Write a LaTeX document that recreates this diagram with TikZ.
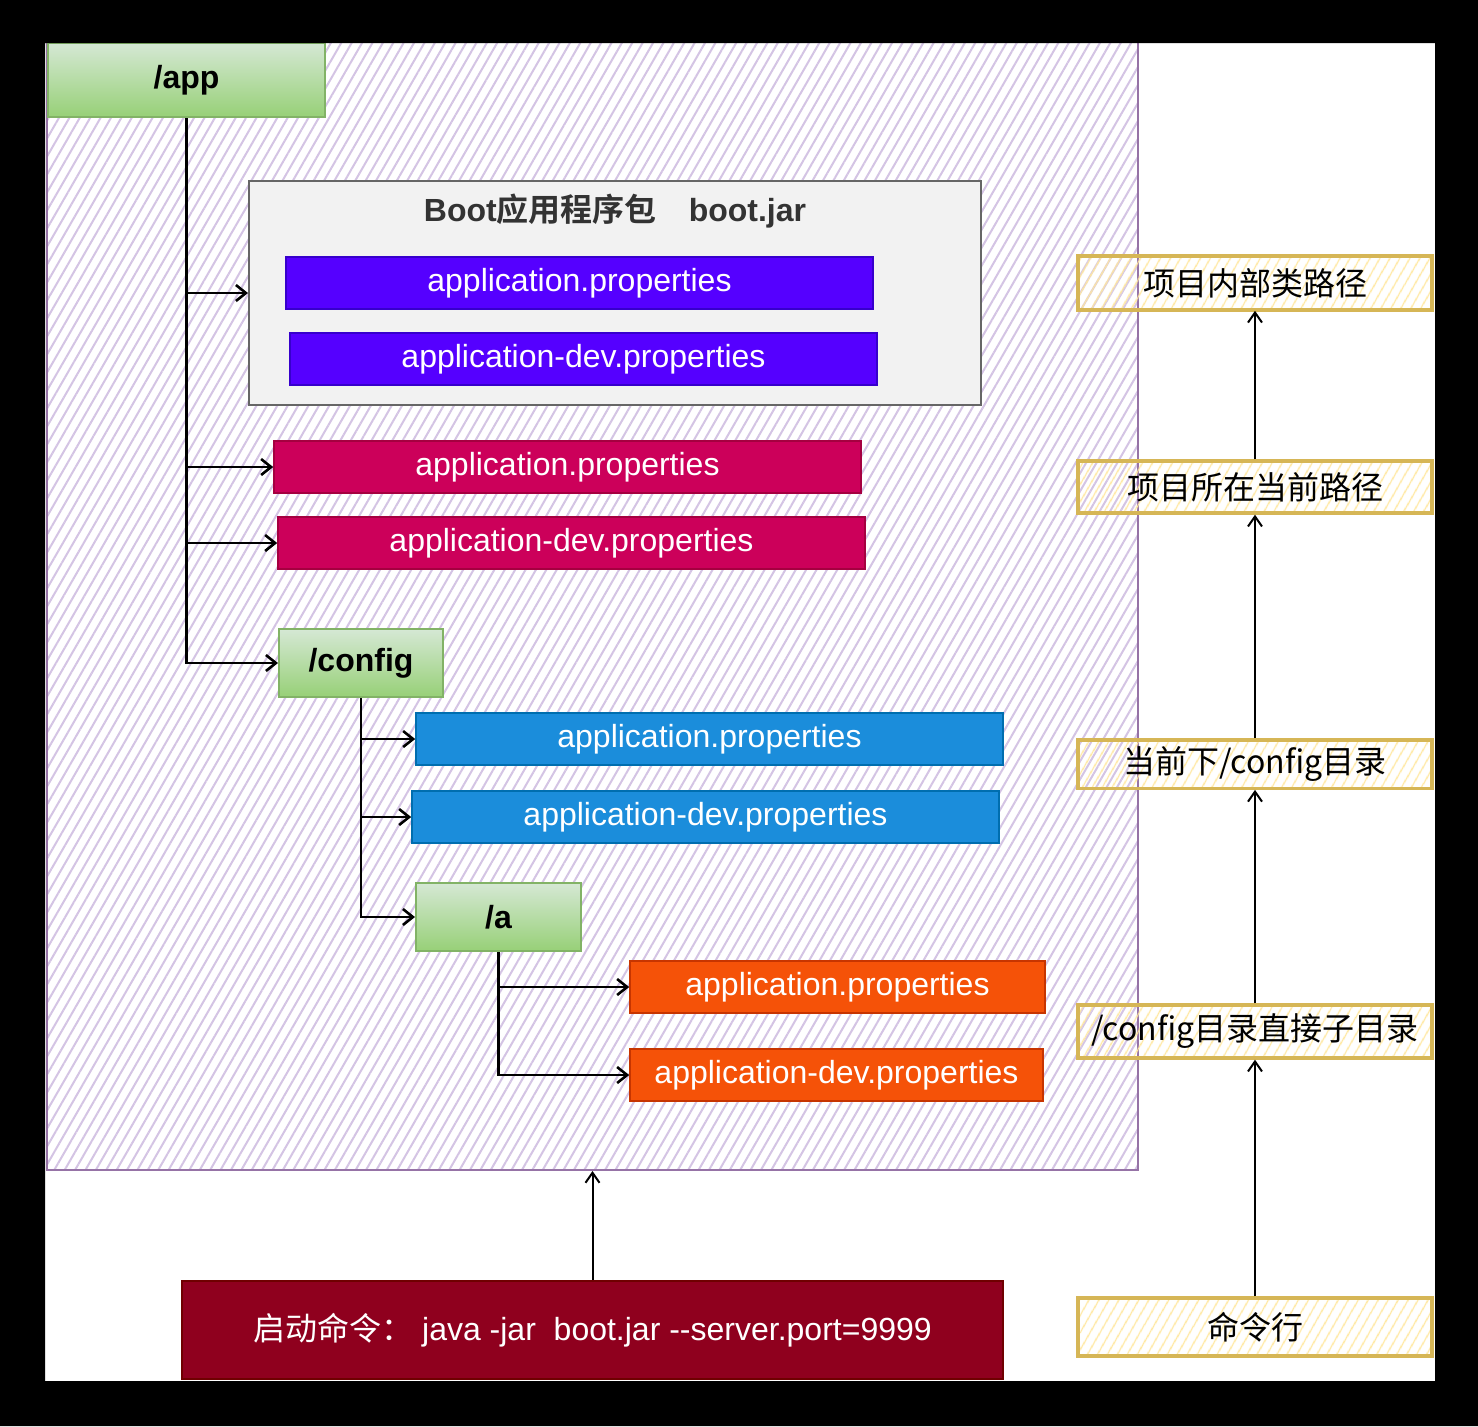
\documentclass[tikz,border=0pt]{standalone}
\usepackage{fontspec}
\setmainfont{Liberation Sans}
\newfontfamily\cjk{Noto Sans CJK SC}[BoldFont={Noto Sans CJK SC Bold}]
\usetikzlibrary{arrows.meta,patterns.meta}
\definecolor{dirgreen}{RGB}{130,179,102}
\definecolor{greentop}{RGB}{213,232,212}
\definecolor{greenbot}{RGB}{151,208,119}
\definecolor{bootgray}{RGB}{102,102,102}
\definecolor{bootfill}{RGB}{242,242,242}
\definecolor{violetfill}{RGB}{85,0,255}
\definecolor{violetdraw}{RGB}{55,0,204}
\definecolor{crimsonfill}{RGB}{204,0,90}
\definecolor{crimsondraw}{RGB}{165,0,64}
\definecolor{bluefill}{RGB}{27,141,219}
\definecolor{bluedraw}{RGB}{0,110,175}
\definecolor{orangefill}{RGB}{245,82,8}
\definecolor{orangedraw}{RGB}{199,53,0}
\definecolor{cmdfill}{RGB}{143,0,30}
\definecolor{cmddraw}{RGB}{111,0,0}
\definecolor{jarhatch}{RGB}{212,196,228}
\definecolor{jardraw}{RGB}{150,115,166}
\definecolor{lvhatch}{RGB}{255,232,160}
\definecolor{lvdraw}{RGB}{214,182,86}

\begin{document}
\begin{tikzpicture}[x=0.5pt,y=-0.5pt,
    bigfont/.style={font=\fontsize{16}{19}\selectfont},
    dirbox/.style={draw=dirgreen,line width=1pt,top color=greentop,bottom color=greenbot,
        font=\fontsize{16}{19}\selectfont\bfseries,minimum width=82pt,minimum height=34pt},
    filebox/.style 2 args={draw=#2,fill=#1,text=white,line width=0.8pt,
        font=\fontsize{16}{19}\selectfont,minimum width=293.5pt,minimum height=26pt},
    levelbox/.style={draw=lvdraw,line width=1.7pt,
        pattern={Lines[angle=60,distance=4pt,line width=0.8pt]},pattern color=lvhatch,
        font=\fontsize{16}{19}\cjk,minimum width=177pt},
    tree/.style={line width=1.3pt,-{Straight Barb[length=5pt,width=8pt]}},
    up/.style={line width=1pt,-{Straight Barb[length=5pt,width=7pt]}}]
    \useasboundingbox (0,0) rectangle (1478,1426);
    \fill[white] (0,0) rectangle (1478,1426);

    % hatched area of the jar directory
    \node[draw=jardraw,line width=1.2pt,pattern={Lines[angle=60,distance=4.5pt,line width=1pt]},
        pattern color=jarhatch,minimum width=545.5pt,minimum height=566pt] (jar) at (592.5,604) {};

    \node[dirbox,minimum width=138.5pt,minimum height=37pt] (app) at (186.5,80) {/app};

    \node[draw=bootgray,fill=bootfill,line width=1pt,minimum width=366pt,minimum height=112pt] (boot) at (615,293) {};
    \node[font=\fontsize{16}{19}\selectfont\bfseries,text=black!80] (boottitle) at (615,211) {Boot{\cjk\bfseries 应用程序包}\quad boot.jar};
    \node[filebox={violetfill}{violetdraw}] (bp1) at (579.5,283) {application.properties};
    \node[filebox={violetfill}{violetdraw}] (bp2) at (583.5,359) {application-dev.properties};

    \node[filebox={crimsonfill}{crimsondraw}] (rp1) at (567.5,467) {application.properties};
    \node[filebox={crimsonfill}{crimsondraw}] (rp2) at (571.5,543) {application-dev.properties};

    \node[dirbox] (config) at (361,663) {/config};
    \node[filebox={bluefill}{bluedraw}] (cp1) at (709.5,739) {application.properties};
    \node[filebox={bluefill}{bluedraw}] (cp2) at (705.5,817) {application-dev.properties};

    \node[dirbox,minimum width=82.5pt] (a) at (498.5,917) {/a};
    \node[filebox={orangefill}{orangedraw},minimum width=207.5pt] (ap1) at (837.5,987) {application.properties};
    \node[filebox={orangefill}{orangedraw},minimum width=206.5pt] (ap2) at (836.5,1075) {application-dev.properties};

    \node[draw=cmddraw,fill=cmdfill,text=white,line width=1pt,bigfont,minimum width=410.5pt,minimum height=49pt] (cmd) at (592.5,1330)
        {{\cjk 启动命令：}\ java -jar\ \ boot.jar -{}-server.port=9999};

    % search order
    \node[levelbox,minimum height=27pt] (lv1) at (1255,283) {项目内部类路径};
    \node[levelbox,minimum height=26pt] (lv2) at (1255,487) {项目所在当前路径};
    \node[levelbox,minimum height=24pt] (lv3) at (1255,764) {当前下/config目录};
    \node[levelbox,minimum height=26.5pt] (lv4) at (1255,1031.5) {/config目录直接子目录};
    \node[levelbox,minimum height=29pt] (lv5) at (1255,1327) {命令行};

    \draw[tree] (app.south) |- (boot.west);
    \draw[tree] (app.south) |- (rp1.west);
    \draw[tree] (app.south) |- (rp2.west);
    \draw[tree] (app.south) |- (config.west);

    \draw[tree] (config.south) |- (cp1.west);
    \draw[tree] (config.south) |- (cp2.west);
    \draw[tree] (config.south) |- (a.west);

    \draw[tree] (a.south) |- (ap1.west);
    \draw[tree] (a.south) |- (ap2.west);

    \draw[up] (cmd) -- (jar);
    \draw[up] (lv5) -- (lv4);
    \draw[up] (lv4) -- (lv3);
    \draw[up] (lv3) -- (lv2);
    \draw[up] (lv2) -- (lv1);

    % black frame
    \fill[black,even odd rule] (0,0) rectangle (1478,1426) (45,43) rectangle (1435,1381);
\end{tikzpicture}
\end{document}
